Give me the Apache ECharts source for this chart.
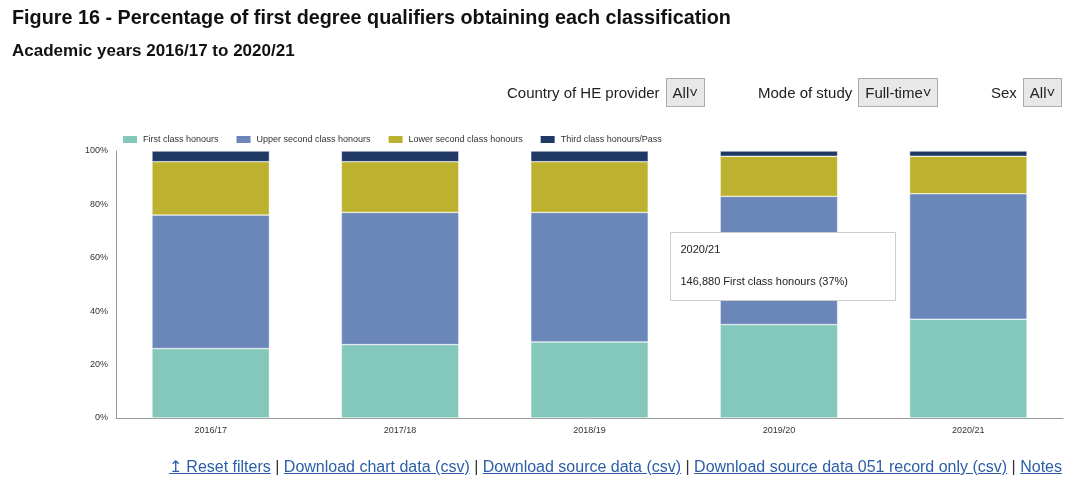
<!DOCTYPE html>
<html><head><meta charset="utf-8">
<script src="https://cdn.jsdelivr.net/npm/echarts@6/dist/echarts.min.js"></script>
<style>
body{margin:0;font-family:Arial,"Liberation Sans",sans-serif;background:#fff;}
#chart{position:absolute;left:0;top:0;width:1080px;height:486px;}
.t1{position:absolute;left:12px;top:6px;font-size:19.8px;font-weight:bold;color:#111;}
.t2{position:absolute;left:12px;top:41px;font-size:17px;font-weight:bold;color:#111;}
.ctl{position:absolute;top:78px;font-size:15px;color:#222;}
.ctl span.b{display:inline-block;border:1px solid #aaa;background:#e8e8e8;padding:5px 6px;margin-left:6px;}
.links{position:absolute;top:457px;right:18px;font-size:16px;color:#333;}
.links a{color:#2b5ea8;text-decoration:underline;}
</style></head><body>
<div id="chart"></div>
<div class="t1">Figure 16 - Percentage of first degree qualifiers obtaining each classification</div>
<div class="t2">Academic years 2016/17 to 2020/21</div>
<div class="ctl" style="left:507px">Country of HE provider<span class="b">All˅</span></div>
<div class="ctl" style="left:758px">Mode of study<span class="b">Full-time˅</span></div>
<div class="ctl" style="left:991px">Sex<span class="b">All˅</span></div>
<div class="links"><a>↥ Reset filters</a> | <a>Download chart data (csv)</a> | <a>Download source data (csv)</a> | <a>Download source data 051 record only (csv)</a> | <a>Notes</a></div>
<script>
var years = ["2016/17", "2017/18", "2018/19", "2019/20", "2020/21"];
var firstClass = [26, 27.5, 28.5, 35, 37];
var upperSecond = [50, 49.5, 48.5, 48, 47];
var lowerSecond = [20, 19, 19, 15, 14];
var thirdPass = [4, 4, 4, 2, 2];
var names = ["First class honours", "Upper second class honours", "Lower second class honours", "Third class honours/Pass"];
var colors = ["#84c7bb", "#6b86b8", "#bdb22f", "#1f3864"];

var chart = echarts.init(document.getElementById('chart'));
var data = [firstClass, upperSecond, lowerSecond, thirdPass];
chart.setOption({
    animation: false,
    color: colors,
    legend: {left: 116, top: 129, itemWidth: 16, itemHeight: 9, itemGap: 16, icon: 'rect',
        textStyle: {fontSize: 9, color: '#333'}, data: names},
    grid: {left: 116, right: 17, top: 151, bottom: 68},
    xAxis: {type: 'category', data: years, axisTick: {show: false},
        axisLine: {lineStyle: {color: '#999'}}, axisLabel: {fontSize: 9, color: '#333'}},
    yAxis: {type: 'value', min: 0, max: 100, interval: 20, splitLine: {show: false},
        axisLine: {show: true, lineStyle: {color: '#999'}},
        axisLabel: {fontSize: 9, color: '#333', formatter: '{value}%'}},
    series: data.map(function (d, i) {
        return {name: names[i], type: 'bar', stack: 'a', data: d, barWidth: '62%',
            itemStyle: {borderColor: '#fff', borderWidth: 0.5}};
    }),
    graphic: [{type: 'group', left: 670, top: 232, z: 100, children: [
        {type: 'rect', z: 100, shape: {width: 225, height: 68}, style: {fill: '#fff', stroke: '#ccc', lineWidth: 1}},
        {type: 'text', z: 101, left: 10, top: 12, style: {text: '2020/21', fontSize: 11, fill: '#222'}},
        {type: 'text', z: 101, left: 10, top: 44, style: {text: '146,880 First class honours (37%)', fontSize: 11, fill: '#222'}}
    ]}]
});
</script>
</body></html>
